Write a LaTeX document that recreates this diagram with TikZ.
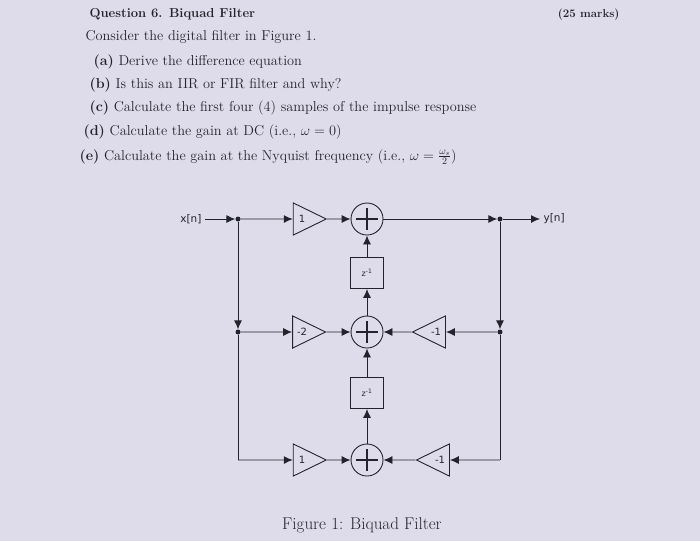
\documentclass[tikz,border=0pt]{standalone}
\usepackage{fontspec}
\newfontfamily\dsans{DejaVu Sans}
\usetikzlibrary{shapes.geometric,arrows.meta}
\definecolor{bg}{RGB}{222,220,234}
\definecolor{ink}{RGB}{35,35,45}
\begin{document}
\begin{tikzpicture}[x=1pt,y=-1pt,
  every node/.style={text=ink},
  wire/.style={draw=ink,line width=0.9pt},
  arr/.style={wire,-{Latex[length=9pt,width=8pt]}},
  dotn/.style={circle,fill=ink,inner sep=0pt,minimum size=5pt},
  gainR/.style={isosceles triangle,isosceles triangle apex angle=52,draw=ink,line width=0.9pt,minimum height=33pt,inner sep=1pt,font=\dsans\fontsize{10}{11}\selectfont},
  gainL/.style={gainR,shape border rotate=180},
  sumn/.style={circle,draw=ink,line width=0.9pt,minimum size=32pt,inner sep=0pt,
    path picture={\draw[ink,line width=1.2pt] ([xshift=-11pt]path picture bounding box.center)--([xshift=11pt]path picture bounding box.center) ([yshift=-11pt]path picture bounding box.center)--([yshift=11pt]path picture bounding box.center);}},
  delay/.style={rectangle,draw=ink,line width=0.9pt,minimum width=33pt,minimum height=31pt,font=\dsans\fontsize{8}{9}\selectfont},
  txt/.style={anchor=base west,font=\fontsize{14.3}{16}\selectfont}]
\fill[bg] (0,0) rectangle (700,541);
\useasboundingbox (0,0) rectangle (700,541);
\node[txt,font=\bfseries\fontsize{13}{15}\selectfont] (q) at (86,17) {Question 6. Biquad Filter};
\node[anchor=base east,font=\bfseries\fontsize{11.5}{13}\selectfont] (m) at (623,17) {(25 marks)};
\node[txt] (l0) at (82,40) {Consider the digital filter in Figure 1.};
\node[txt] (la) at (90,65) {\textbf{(a)} Derive the difference equation};
\node[txt] (lb) at (86,88) {\textbf{(b)} Is this an IIR or FIR filter and why?};
\node[txt] (lc) at (86,111) {\textbf{(c)} Calculate the first four (4) samples of the impulse response};
\node[txt] (ld) at (80,135) {\textbf{(d)} Calculate the gain at DC (i.e., $\omega=0$)};
\node[txt] (le) at (76,160) {\textbf{(e)} Calculate the gain at the Nyquist frequency (i.e., $\omega=\frac{\omega_s}{2}$)};
\node[anchor=east,font=\dsans\fontsize{10.5}{12}\selectfont] (x) at (205,219) {x[n]};
\node[dotn] (d1) at (238,219) {};
\node[gainR] (g1) at (302,219) {1};
\node[sumn] (s1) at (367,219) {};
\node[dotn] (d3) at (500,219) {};
\node[anchor=west,font=\dsans\fontsize{10.5}{12}\selectfont] (y) at (540,219) {y[n]};
\node[delay] (z1) at (367,273) {z\textsuperscript{-1}};
\node[dotn] (d2) at (238,332) {};
\node[gainR] (g2) at (302,332) {-2};
\node[sumn] (s2) at (367,332) {};
\node[gainL] (g3) at (436,332) {-1};
\node[dotn] (d4) at (500,332) {};
\node[delay] (z2) at (367,393) {z\textsuperscript{-1}};
\coordinate (c1) at (238,460);
\node[gainR] (g4) at (302,460) {1};
\node[sumn] (s3) at (367,460) {};
\node[gainL] (g5) at (440,460) {-1};
\coordinate (c2) at (500,460);
\draw[arr] (x) -- (d1);
\draw[arr] (d1) -- (g1);
\draw[arr] (g1) -- (s1);
\draw[arr] (s1) -- (d3);
\draw[arr] (d3) -- (y);
\draw[arr] (d1) -- (d2);
\draw[arr] (d2) -- (g2);
\draw[arr] (g2) -- (s2);
\draw[arr] (d3) -- (d4);
\draw[arr] (d4) -- (g3);
\draw[arr] (g3) -- (s2);
\draw[wire] (d2) -- (c1);
\draw[arr] (c1) -- (g4);
\draw[arr] (g4) -- (s3);
\draw[wire] (d4) -- (c2);
\draw[arr] (c2) -- (g5);
\draw[arr] (g5) -- (s3);
\draw[arr] (s3) -- (z2);
\draw[arr] (z2) -- (s2);
\draw[arr] (s2) -- (z1);
\draw[arr] (z1) -- (s1);
\node[font=\fontsize{17}{20}\selectfont] (cap) at (362,525) {Figure 1: Biquad Filter};
\end{tikzpicture}
\end{document}
